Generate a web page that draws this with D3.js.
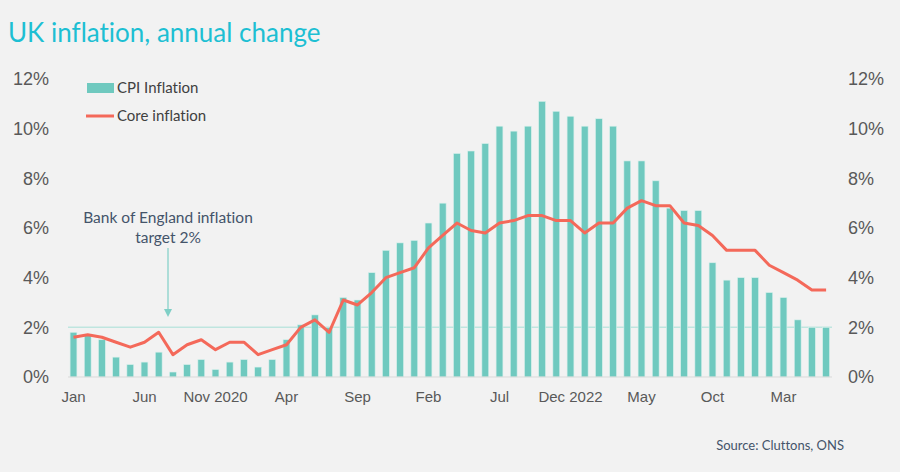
<!DOCTYPE html>
<meta charset="utf-8">
<head>
    <title>UK inflation, annual change</title>
    <script src="https://d3js.org/d3.v7.min.js"></script>
    <style>
        body { margin: 0; background: #f2f2f2; font-family: Lato, 'Open Sans', sans-serif; }
        svg { display: block; font-variant-ligatures: none; }
        text { font-variant-ligatures: none; }
        .axis path, .axis line { stroke: none; }
        .yaxis .tick text { font-size: 18px; fill: #595959; }
        .xaxis .tick text { font-size: 15px; fill: #595959; }
        .title { font-size: 26px; fill: #1dbfd3; }
        .legend { font-size: 15px; fill: #404040; }
        .note { font-size: 15.5px; fill: #44546a; }
        .source { font-size: 13px; fill: #44546a; }
    </style>
</head>
<body>
<svg width="900" height="472"></svg>
<script>
    const months = [
        'Jan 2020', 'Feb 2020', 'Mar 2020', 'Apr 2020', 'May 2020', 'Jun 2020', 'Jul 2020', 'Aug 2020', 'Sep 2020', 'Oct 2020', 'Nov 2020', 'Dec 2020',
        'Jan 2021', 'Feb 2021', 'Mar 2021', 'Apr 2021', 'May 2021', 'Jun 2021', 'Jul 2021', 'Aug 2021', 'Sep 2021', 'Oct 2021', 'Nov 2021', 'Dec 2021',
        'Jan 2022', 'Feb 2022', 'Mar 2022', 'Apr 2022', 'May 2022', 'Jun 2022', 'Jul 2022', 'Aug 2022', 'Sep 2022', 'Oct 2022', 'Nov 2022', 'Dec 2022',
        'Jan 2023', 'Feb 2023', 'Mar 2023', 'Apr 2023', 'May 2023', 'Jun 2023', 'Jul 2023', 'Aug 2023', 'Sep 2023', 'Oct 2023', 'Nov 2023', 'Dec 2023',
        'Jan 2024', 'Feb 2024', 'Mar 2024', 'Apr 2024', 'May 2024', 'Jun 2024'
    ];

    const cpi = [
        1.8, 1.7, 1.5, 0.8, 0.5, 0.6, 1.0, 0.2, 0.5, 0.7, 0.3, 0.6,
        0.7, 0.4, 0.7, 1.5, 2.1, 2.5, 2.0, 3.2, 3.1, 4.2, 5.1, 5.4,
        5.5, 6.2, 7.0, 9.0, 9.1, 9.4, 10.1, 9.9, 10.1, 11.1, 10.7, 10.5,
        10.1, 10.4, 10.1, 8.7, 8.7, 7.9, 6.8, 6.7, 6.7, 4.6, 3.9, 4.0,
        4.0, 3.4, 3.2, 2.3, 2.0, 2.0
    ];

    const core = [
        1.6, 1.7, 1.6, 1.4, 1.2, 1.4, 1.8, 0.9, 1.3, 1.5, 1.1, 1.4,
        1.4, 0.9, 1.1, 1.3, 2.0, 2.3, 1.8, 3.1, 2.9, 3.4, 4.0, 4.2,
        4.4, 5.2, 5.7, 6.2, 5.9, 5.8, 6.2, 6.3, 6.5, 6.5, 6.3, 6.3,
        5.8, 6.2, 6.2, 6.8, 7.1, 6.9, 6.9, 6.2, 6.1, 5.7, 5.1, 5.1,
        5.1, 4.5, 4.2, 3.9, 3.5, 3.5
    ];

    // shown month labels (every fifth month)
    const tickMonths = ['Jan 2020', 'Jun 2020', 'Nov 2020', 'Apr 2021', 'Sep 2021', 'Feb 2022', 'Jul 2022', 'Dec 2022', 'May 2023', 'Oct 2023', 'Mar 2024'];
    const tickNames = ['Jan', 'Jun', 'Nov 2020', 'Apr', 'Sep', 'Feb', 'Jul', 'Dec 2022', 'May', 'Oct', 'Mar'];

    const yTicks = [0, 2, 4, 6, 8, 10, 12];
    const target = 2;

    const svg = d3.select('svg');

    const x = d3.scaleBand()
        .domain(months)
        .range([66.4, 833.2])
        .paddingInner(0.52)
        .paddingOuter(0.26);

    const y = d3.scaleLinear()
        .domain([0, 12])
        .range([377, 79]);

    const fmt = (d) => d + '%';

    // y axes (left + right)
    svg.append('g')
        .attr('class', 'axis yaxis')
        .attr('transform', 'translate(53,0)')
        .call(d3.axisLeft(y).tickValues(yTicks).tickFormat(fmt).tickSize(0).tickPadding(4));

    svg.append('g')
        .attr('class', 'axis yaxis')
        .attr('transform', 'translate(844,0)')
        .call(d3.axisRight(y).tickValues(yTicks).tickFormat(fmt).tickSize(0).tickPadding(4));

    // target line
    svg.append('line')
        .attr('x1', 68).attr('x2', 832)
        .attr('y1', y(target)).attr('y2', y(target))
        .attr('stroke', '#bfe5df')
        .attr('stroke-width', 1.5);

    // bars
    svg.append('g')
        .selectAll('rect')
        .data(cpi)
        .join('rect')
        .attr('x', (d, i) => x(months[i]))
        .attr('y', (d) => y(d))
        .attr('width', x.bandwidth())
        .attr('height', (d) => y(0) - y(d))
        .attr('fill', '#6fc9bf')
        .attr('stroke', '#d8f0ec')
        .attr('stroke-width', 0.6);

    // baseline
    svg.append('line')
        .attr('x1', 68).attr('x2', 832)
        .attr('y1', y(0)).attr('y2', y(0))
        .attr('stroke', '#d9d9d9')
        .attr('stroke-width', 1);

    // x axis
    svg.append('g')
        .attr('class', 'axis xaxis')
        .attr('transform', `translate(0,${y(0)})`)
        .call(d3.axisBottom(x)
            .tickValues(tickMonths)
            .tickFormat((d, i) => tickNames[i])
            .tickSize(0)
            .tickPadding(14));

    // core inflation line
    const line = d3.line()
        .x((d, i) => x(months[i]) + x.bandwidth() / 2)
        .y((d) => y(d));

    svg.append('path')
        .datum(core)
        .attr('d', line)
        .attr('fill', 'none')
        .attr('stroke', '#f4695a')
        .attr('stroke-width', 3)
        .attr('stroke-linejoin', 'round');

    // title
    svg.append('text')
        .attr('class', 'title')
        .attr('x', 8)
        .attr('y', 42)
        .text('UK inflation, annual change');

    // legend
    svg.append('rect')
        .attr('x', 87).attr('y', 83)
        .attr('width', 27).attr('height', 10)
        .attr('fill', '#6fc9bf');
    svg.append('text')
        .attr('class', 'legend')
        .attr('x', 117).attr('y', 93)
        .text('CPI Inflation');
    svg.append('line')
        .attr('x1', 86).attr('x2', 114)
        .attr('y1', 116).attr('y2', 116)
        .attr('stroke', '#f4695a')
        .attr('stroke-width', 3);
    svg.append('text')
        .attr('class', 'legend')
        .attr('x', 117).attr('y', 121)
        .text('Core inflation');

    // annotation
    const note = svg.append('text')
        .attr('class', 'note')
        .attr('text-anchor', 'middle');
    note.append('tspan').attr('x', 168).attr('y', 223).text('Bank of England inflation');
    note.append('tspan').attr('x', 168).attr('y', 243).text('target 2%');

    svg.append('line')
        .attr('x1', 168).attr('x2', 168)
        .attr('y1', 248).attr('y2', 309)
        .attr('stroke', '#7fcfc6')
        .attr('stroke-width', 1.2);
    svg.append('path')
        .attr('d', 'M164,309 L172,309 L168,317 Z')
        .attr('fill', '#7fcfc6');

    // source
    svg.append('text')
        .attr('class', 'source')
        .attr('x', 844)
        .attr('y', 450)
        .attr('text-anchor', 'end')
        .text('Source: Cluttons, ONS');
</script>
</body>
